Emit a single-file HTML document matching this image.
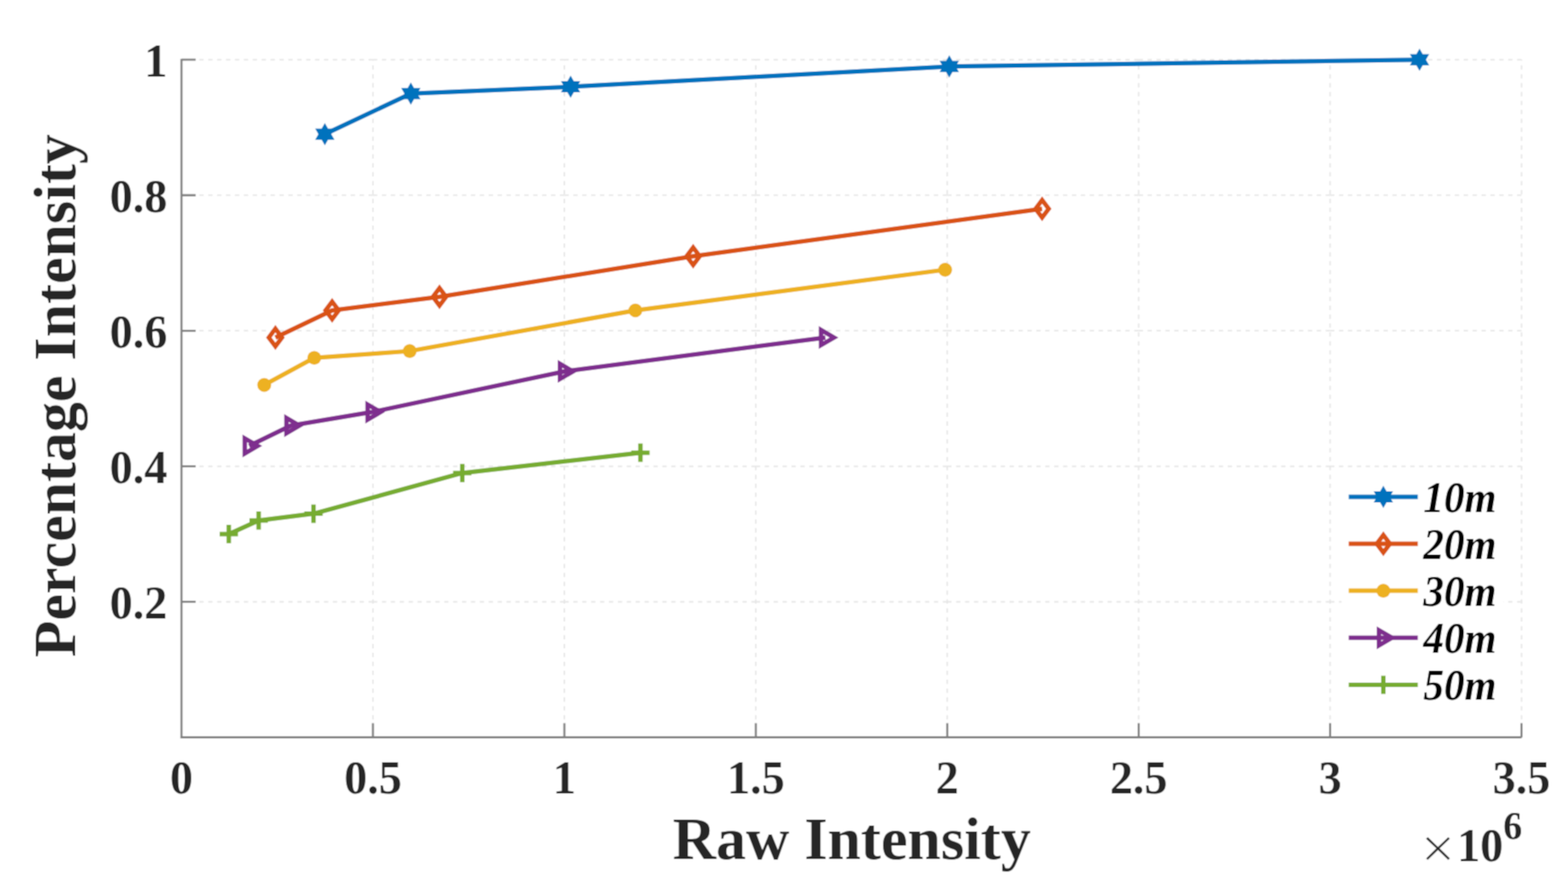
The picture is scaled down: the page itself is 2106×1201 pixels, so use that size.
<!DOCTYPE html><html><head><meta charset="utf-8"><title>Percentage Intensity vs Raw Intensity</title><style>html,body{margin:0;padding:0;background:#fff;overflow:hidden;}svg{display:block;}text{font-family:"Liberation Serif","Times New Roman",serif;}</style></head><body>
<svg width="2106" height="1201" viewBox="0 0 2106 1201">
<defs><filter id="soft" x="0" y="0" width="2106" height="1201" filterUnits="userSpaceOnUse"><feConvolveMatrix order="3" kernelMatrix="1 2 1 2 4 2 1 2 1" divisor="16" edgeMode="duplicate"/></filter></defs>
<g filter="url(#soft)">
<rect width="2106" height="1201" fill="#fff"/>
<path d="M500.91 990.50V80.20M758.03 990.50V80.20M1015.14 990.50V80.20M1272.26 990.50V80.20M1529.37 990.50V80.20M1786.49 990.50V80.20M2043.60 990.50V80.20M243.80 808.44H500.91M500.91 808.44H758.03M758.03 808.44H1015.14M1015.14 808.44H1272.26M1272.26 808.44H1529.37M1529.37 808.44H1786.49M1786.49 808.44H2043.60M243.80 626.38H500.91M500.91 626.38H758.03M758.03 626.38H1015.14M1015.14 626.38H1272.26M1272.26 626.38H1529.37M1529.37 626.38H1786.49M1786.49 626.38H2043.60M243.80 444.32H500.91M500.91 444.32H758.03M758.03 444.32H1015.14M1015.14 444.32H1272.26M1272.26 444.32H1529.37M1529.37 444.32H1786.49M1786.49 444.32H2043.60M243.80 262.26H500.91M500.91 262.26H758.03M758.03 262.26H1015.14M1015.14 262.26H1272.26M1272.26 262.26H1529.37M1529.37 262.26H1786.49M1786.49 262.26H2043.60M243.80 80.20H500.91M500.91 80.20H758.03M758.03 80.20H1015.14M1015.14 80.20H1272.26M1272.26 80.20H1529.37M1529.37 80.20H1786.49M1786.49 80.20H2043.60" stroke="#e6e6e6" stroke-width="2" stroke-dasharray="5.8 6.16" fill="none"/>
<polyline points="436.30,180.33 551.80,125.72 766.40,116.61 1275.00,89.30 1906.60,80.20" fill="none" stroke="#0072BD" stroke-width="6.0" stroke-linejoin="round"/>
<polyline points="369.90,453.42 446.10,417.01 590.30,398.81 931.00,344.19 1399.70,280.47" fill="none" stroke="#D95319" stroke-width="6.0" stroke-linejoin="round"/>
<polyline points="354.90,517.14 422.10,480.73 550.30,471.63 853.40,417.01 1269.40,362.39" fill="none" stroke="#EDB120" stroke-width="6.0" stroke-linejoin="round"/>
<polyline points="334.60,599.07 390.60,571.76 499.60,553.56 758.00,498.94 1108.60,453.42" fill="none" stroke="#7E2F8E" stroke-width="6.0" stroke-linejoin="round"/>
<polyline points="307.30,717.41 347.40,699.20 421.10,690.10 620.90,635.48 860.20,608.17" fill="none" stroke="#77AC30" stroke-width="6.0" stroke-linejoin="round"/>
<path d="M436.30 165.33L423.31 187.83L449.29 187.83ZM436.30 195.33L449.29 172.83L423.31 172.83ZM551.80 110.72L538.81 133.22L564.79 133.22ZM551.80 140.72L564.79 118.22L538.81 118.22ZM766.40 101.61L753.41 124.11L779.39 124.11ZM766.40 131.61L779.39 109.11L753.41 109.11ZM1275.00 74.30L1262.01 96.80L1287.99 96.80ZM1275.00 104.30L1287.99 81.80L1262.01 81.80ZM1906.60 65.20L1893.61 87.70L1919.59 87.70ZM1906.60 95.20L1919.59 72.70L1893.61 72.70Z" fill="#0072BD" fill-rule="nonzero"/>
<path d="M369.90 436.62L382.50 453.42L369.90 470.22L357.30 453.42ZM369.90 446.62L364.80 453.42L369.90 460.22L375.00 453.42ZM446.10 400.21L458.70 417.01L446.10 433.81L433.50 417.01ZM446.10 410.21L441.00 417.01L446.10 423.81L451.20 417.01ZM590.30 382.01L602.90 398.81L590.30 415.61L577.70 398.81ZM590.30 392.01L585.20 398.81L590.30 405.61L595.40 398.81ZM931.00 327.39L943.60 344.19L931.00 360.99L918.40 344.19ZM931.00 337.39L925.90 344.19L931.00 350.99L936.10 344.19ZM1399.70 263.67L1412.30 280.47L1399.70 297.27L1387.10 280.47ZM1399.70 273.67L1394.60 280.47L1399.70 287.27L1404.80 280.47Z" fill="#D95319" fill-rule="evenodd"/>
<g fill="#EDB120"><circle cx="354.90" cy="517.14" r="9.30"/><circle cx="422.10" cy="480.73" r="9.30"/><circle cx="550.30" cy="471.63" r="9.30"/><circle cx="853.40" cy="417.01" r="9.30"/><circle cx="1269.40" cy="362.39" r="9.30"/></g>
<path d="M325.75 583.67L352.15 599.07L325.75 614.47ZM331.75 604.02L340.25 599.07L331.75 594.12ZM381.75 556.36L408.15 571.76L381.75 587.16ZM387.75 576.72L396.25 571.76L387.75 566.81ZM490.75 538.16L517.15 553.56L490.75 568.96ZM496.75 558.51L505.25 553.56L496.75 548.60ZM749.15 483.54L775.55 498.94L749.15 514.34ZM755.15 503.89L763.65 498.94L755.15 493.98ZM1099.75 438.02L1126.15 453.42L1099.75 468.82ZM1105.75 458.38L1114.25 453.42L1105.75 448.47Z" fill="#7E2F8E" fill-rule="evenodd"/>
<path d="M295.00 714.41H319.60V720.41H295.00ZM304.30 705.11H310.30V729.71H304.30ZM335.10 696.20H359.70V702.20H335.10ZM344.40 686.90H350.40V711.50H344.40ZM408.80 687.10H433.40V693.10H408.80ZM418.10 677.80H424.10V702.40H418.10ZM608.60 632.48H633.20V638.48H608.60ZM617.90 623.18H623.90V647.78H617.90ZM847.90 605.17H872.50V611.17H847.90ZM857.20 595.87H863.20V620.47H857.20Z" fill="#77AC30" fill-rule="nonzero"/>
<path d="M243.80 78.90V990.50M242.30 990.50H2043.60M500.91 990.50V971.50M758.03 990.50V971.50M1015.14 990.50V971.50M1272.26 990.50V971.50M1529.37 990.50V971.50M1786.49 990.50V971.50M2043.60 990.50V971.50M243.80 808.44H262.80M243.80 626.38H262.80M243.80 444.32H262.80M243.80 262.26H262.80M243.80 80.20H262.80" stroke="#808080" stroke-width="2.8" fill="none"/>
<g font-size="62" font-weight="bold" fill="#262626"><text transform="translate(243.80 1065.8) scale(1 1.03)" text-anchor="middle">0</text><text transform="translate(500.91 1065.8) scale(1 1.03)" text-anchor="middle">0.5</text><text transform="translate(758.03 1065.8) scale(1 1.03)" text-anchor="middle">1</text><text transform="translate(1015.14 1065.8) scale(1 1.03)" text-anchor="middle">1.5</text><text transform="translate(1272.26 1065.8) scale(1 1.03)" text-anchor="middle">2</text><text transform="translate(1529.37 1065.8) scale(1 1.03)" text-anchor="middle">2.5</text><text transform="translate(1786.49 1065.8) scale(1 1.03)" text-anchor="middle">3</text><text transform="translate(2043.60 1065.8) scale(1 1.03)" text-anchor="middle">3.5</text><text transform="translate(224.7 831.14) scale(1 1.03)" text-anchor="end">0.2</text><text transform="translate(224.7 649.08) scale(1 1.03)" text-anchor="end">0.4</text><text transform="translate(224.7 467.02) scale(1 1.03)" text-anchor="end">0.6</text><text transform="translate(224.7 284.96) scale(1 1.03)" text-anchor="end">0.8</text><text transform="translate(224.7 102.90) scale(1 1.03)" text-anchor="end">1</text></g>
<text x="1144.0" y="1154.4" text-anchor="middle" font-size="80.5" font-weight="bold" fill="#262626">Raw Intensity</text>
<text transform="translate(101.2 531.6) rotate(-90)" text-anchor="middle" font-size="80.5" font-weight="bold" fill="#262626">Percentage Intensity</text>
<text transform="translate(1908.3 1165.6) scale(1.05 1)" font-size="78" fill="#262626" stroke="#fff" stroke-width="0.9">&#215;</text>
<text transform="translate(1957.0 1157.4) scale(1 1.03)" font-size="62" font-weight="bold" fill="#262626">10</text>
<text transform="translate(2019.0 1126.8) scale(1 1.03)" font-size="51" font-weight="bold" fill="#262626">6</text>
<rect x="1801.8" y="632" width="217.5" height="326" fill="#fff"/>
<path d="M1811.50 667.40H1904.30" stroke="#0072BD" stroke-width="6.0"/>
<path d="M1858.00 652.40L1845.01 674.90L1870.99 674.90ZM1858.00 682.40L1870.99 659.90L1845.01 659.90Z" fill="#0072BD" fill-rule="nonzero"/>
<text transform="translate(1911.8 687.70) scale(0.995 1.05)" font-size="55.5" font-weight="bold" font-style="italic" fill="#000">10m</text>
<path d="M1811.50 730.50H1904.30" stroke="#D95319" stroke-width="6.0"/>
<path d="M1858.00 713.70L1870.60 730.50L1858.00 747.30L1845.40 730.50ZM1858.00 723.70L1852.90 730.50L1858.00 737.30L1863.10 730.50Z" fill="#D95319" fill-rule="evenodd"/>
<text transform="translate(1911.8 750.80) scale(0.995 1.05)" font-size="55.5" font-weight="bold" font-style="italic" fill="#000">20m</text>
<path d="M1811.50 793.60H1904.30" stroke="#EDB120" stroke-width="6.0"/>
<g fill="#EDB120"><circle cx="1858.00" cy="793.60" r="9.30"/></g>
<text transform="translate(1911.8 813.90) scale(0.995 1.05)" font-size="55.5" font-weight="bold" font-style="italic" fill="#000">30m</text>
<path d="M1811.50 856.80H1904.30" stroke="#7E2F8E" stroke-width="6.0"/>
<path d="M1849.15 841.40L1875.55 856.80L1849.15 872.20ZM1855.15 861.75L1863.65 856.80L1855.15 851.85Z" fill="#7E2F8E" fill-rule="evenodd"/>
<text transform="translate(1911.8 877.10) scale(0.995 1.05)" font-size="55.5" font-weight="bold" font-style="italic" fill="#000">40m</text>
<path d="M1811.50 920.00H1904.30" stroke="#77AC30" stroke-width="6.0"/>
<path d="M1845.70 917.00H1870.30V923.00H1845.70ZM1855.00 907.70H1861.00V932.30H1855.00Z" fill="#77AC30" fill-rule="nonzero"/>
<text transform="translate(1911.8 940.30) scale(0.995 1.05)" font-size="55.5" font-weight="bold" font-style="italic" fill="#000">50m</text>
</g></svg></body></html>
